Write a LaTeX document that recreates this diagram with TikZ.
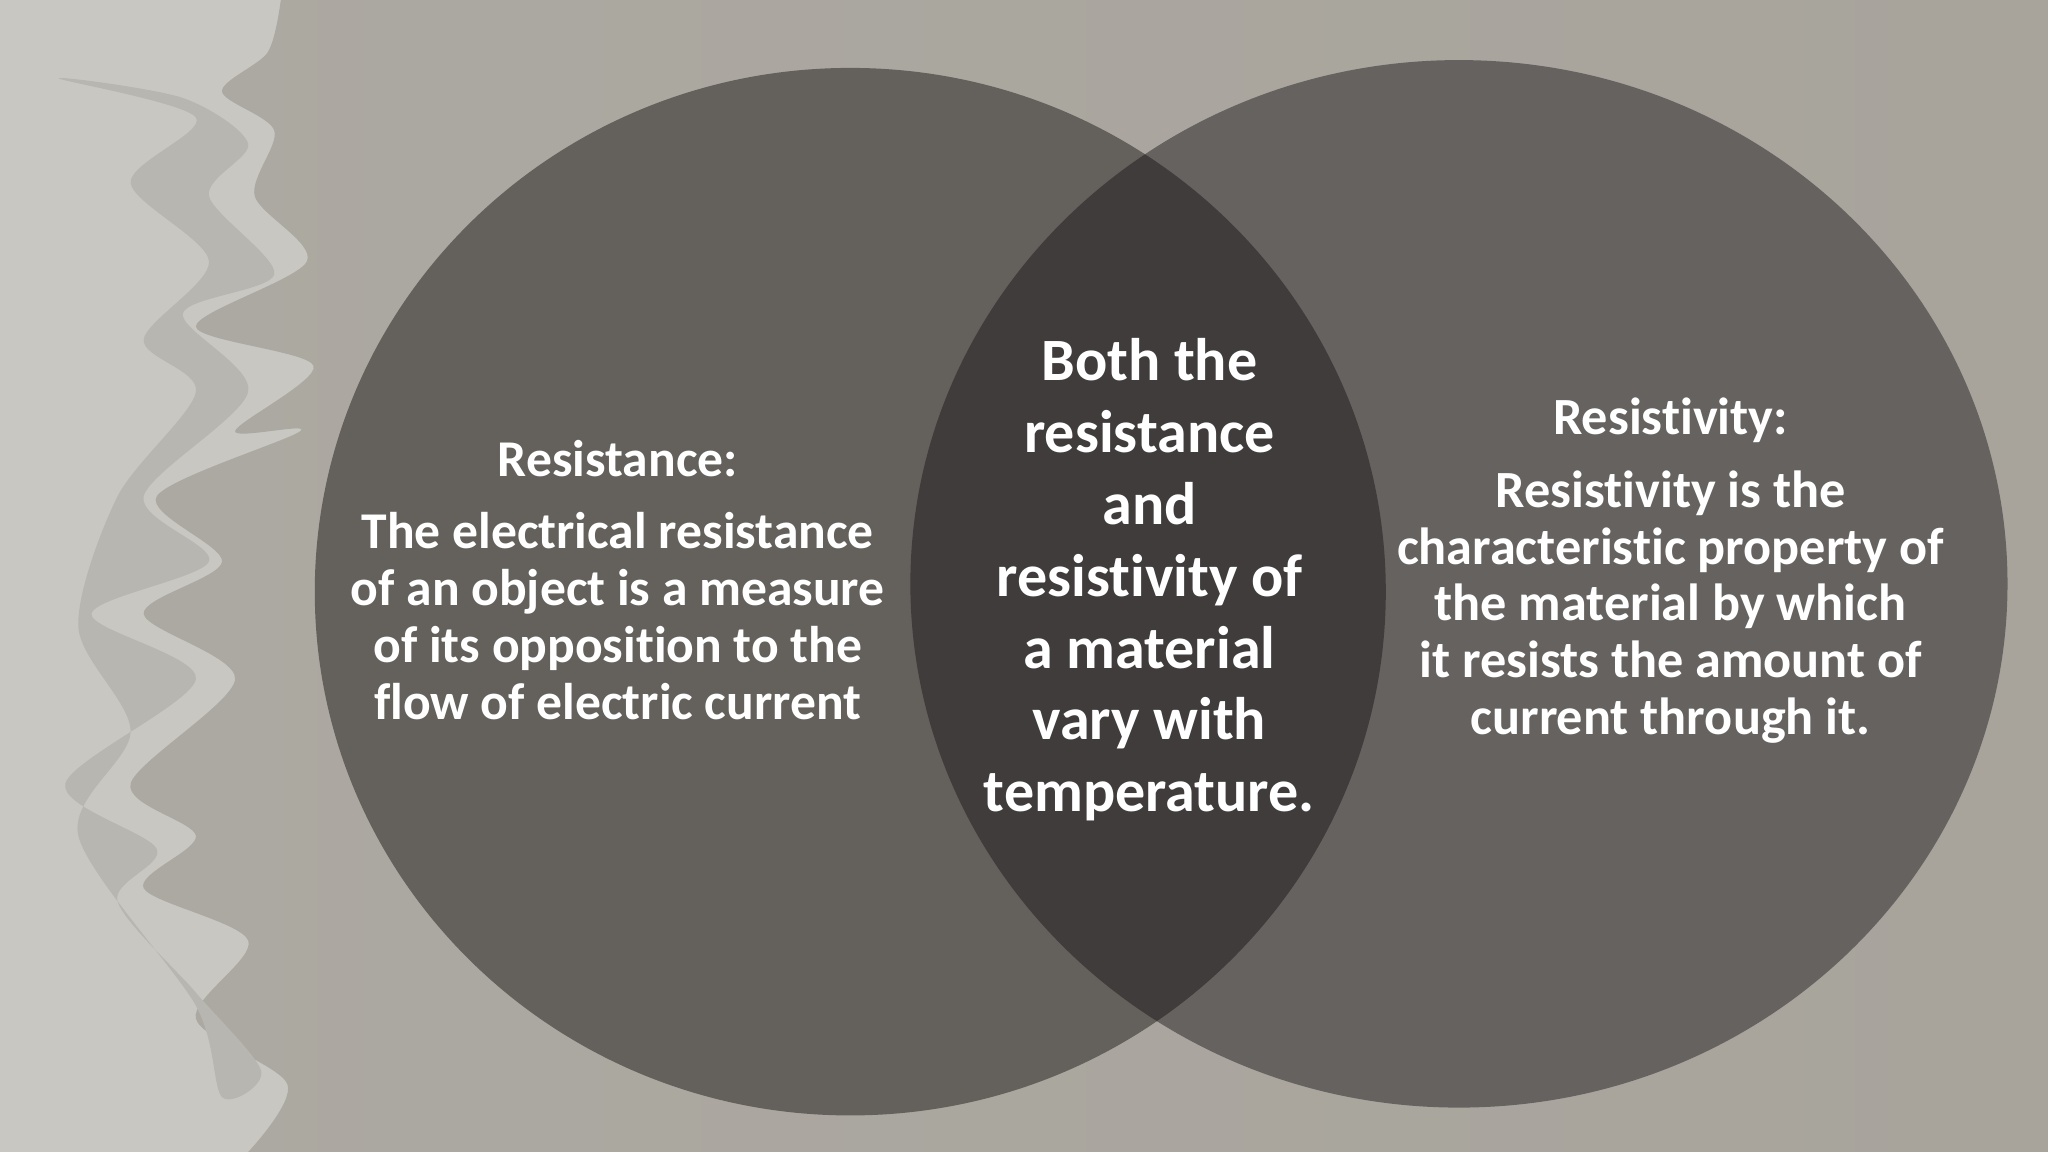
\documentclass[tikz,border=0pt]{standalone}
\usepackage{fontspec}
\setmainfont{Carlito}[Ligatures=NoCommon]
\begin{document}
\begin{tikzpicture}[x=1pt,y=-1pt,
  txt/.style={text=white,font=\bfseries,align=center,inner sep=0pt}]
\useasboundingbox (0,0) rectangle (1568,882);
\fill[fill={rgb,255:red,200;green,199;blue,194}] (0,0) rectangle (1568,882);
\shade[left color={rgb,255:red,172;green,169;blue,162},right color={rgb,255:red,168;green,164;blue,156}]
 plot[smooth] coordinates {(215,0) (205,40) (170,70) (210,100) (195,150) (235,200) (150,250) (240,280) (180,330) (230,330) (120,380) (170,430) (110,470) (180,520) (100,600) (150,640) (110,680) (190,720) (150,780) (220,830) (190,882)} -- (1568,882) -- (1568,0) -- cycle;
\fill[fill={rgb,255:red,184;green,182;blue,176}] plot[smooth cycle] coordinates {(45,60) (140,75) (190,110) (160,150) (210,210) (140,240) (190,300) (110,380) (160,430) (70,470) (150,520) (50,600) (120,650) (90,690) (150,760) (200,820) (170,840) (150,770) (60,640) (100,560) (60,480) (90,380) (150,300) (110,260) (160,200) (100,140) (150,90)};
\fill[fill={rgb,255:red,100;green,97;blue,92}] (651,453) ellipse [x radius=410,y radius=401];
\fill[fill={rgb,255:red,102;green,98;blue,96}] (1117,447) ellipse [x radius=420,y radius=401];
\begin{scope}
\clip (651,453) ellipse [x radius=410,y radius=401];
\fill[fill={rgb,255:red,64;green,60;blue,60}] (1117,447) ellipse [x radius=420,y radius=401];
\end{scope}
\node[txt,font=\bfseries\fontsize{39.5}{43.5}\selectfont] (l) at (473,444) {Resistance:\\[12pt]The electrical resistance\\of an object is a measure\\of its opposition to the\\flow of electric current};
\node[txt,font=\bfseries\fontsize{46}{55}\selectfont] (m) at (880,444) {Both the\\resistance\\and\\resistivity of\\a material\\vary with\\temperature.};
\node[txt,font=\bfseries\fontsize{40}{43.5}\selectfont] (r) at (1279,437) {Resistivity:\\[12pt]Resistivity is the\\characteristic property of\\the material by which\\it resists the amount of\\current through it.};
\end{tikzpicture}
\end{document}
